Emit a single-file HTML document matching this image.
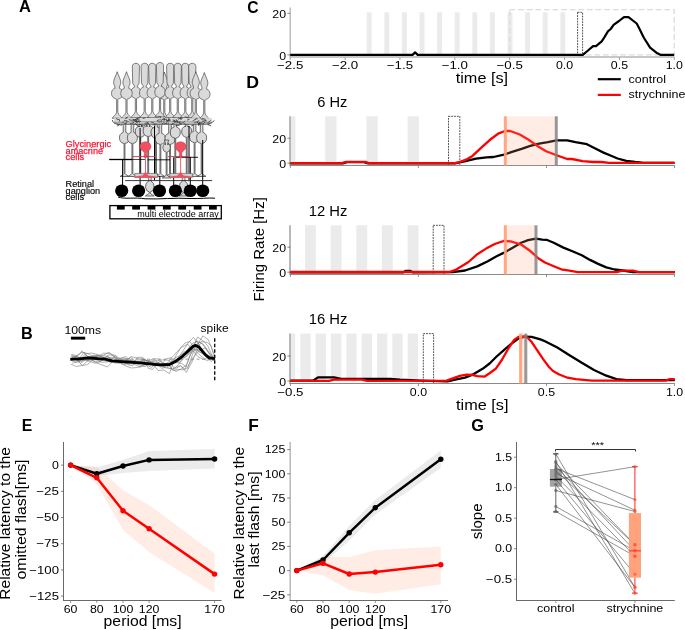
<!DOCTYPE html>
<html><head><meta charset="utf-8"><style>
html,body{margin:0;padding:0;background:#fff;}
svg{display:block;font-family:"Liberation Sans", sans-serif;will-change:transform;}
text{font-family:"Liberation Sans", sans-serif;}
</style></head><body>
<svg width="685" height="630" viewBox="0 0 685 630">
<rect width="685" height="630" fill="#fff"/>
<text x="19.0" y="11.8" font-size="16.4" text-anchor="start" font-weight="bold" fill="#000" textLength="11.92" lengthAdjust="spacingAndGlyphs" >A</text>
<text x="21.0" y="339.0" font-size="16.4" text-anchor="start" font-weight="bold" fill="#000" textLength="11.74" lengthAdjust="spacingAndGlyphs" >B</text>
<text x="247.2" y="12.7" font-size="16.4" text-anchor="start" font-weight="bold" fill="#000" textLength="11.3" lengthAdjust="spacingAndGlyphs" >C</text>
<text x="246.2" y="88.3" font-size="16.4" text-anchor="start" font-weight="bold" fill="#000" textLength="12.78" lengthAdjust="spacingAndGlyphs" >D</text>
<text x="21.8" y="431.0" font-size="16.4" text-anchor="start" font-weight="bold" fill="#000" textLength="10.52" lengthAdjust="spacingAndGlyphs" >E</text>
<text x="248.3" y="430.6" font-size="16.4" text-anchor="start" font-weight="bold" fill="#000" textLength="10.52" lengthAdjust="spacingAndGlyphs" >F</text>
<text x="471.2" y="431.0" font-size="16.4" text-anchor="start" font-weight="bold" fill="#000" textLength="12.64" lengthAdjust="spacingAndGlyphs" >G</text>
<rect x="366.75" y="12.3" width="4.9" height="42" fill="#ebebeb"/>
<rect x="384.35" y="12.3" width="4.9" height="42" fill="#ebebeb"/>
<rect x="401.95" y="12.3" width="4.9" height="42" fill="#ebebeb"/>
<rect x="419.55" y="12.3" width="4.9" height="42" fill="#ebebeb"/>
<rect x="437.15" y="12.3" width="4.9" height="42" fill="#ebebeb"/>
<rect x="454.75" y="12.3" width="4.9" height="42" fill="#ebebeb"/>
<rect x="472.35" y="12.3" width="4.9" height="42" fill="#ebebeb"/>
<rect x="489.95" y="12.3" width="4.9" height="42" fill="#ebebeb"/>
<rect x="507.55" y="12.3" width="4.9" height="42" fill="#ebebeb"/>
<rect x="525.15" y="12.3" width="4.9" height="42" fill="#ebebeb"/>
<rect x="542.75" y="12.3" width="4.9" height="42" fill="#ebebeb"/>
<rect x="560.35" y="12.3" width="4.9" height="42" fill="#ebebeb"/>
<rect x="509.6" y="9.7" width="164.6" height="45.1" fill="none" stroke="#dcdcdc" stroke-width="1.3" stroke-dasharray="5.7 2.9"/>
<rect x="577.6" y="12.3" width="5.0" height="43.5" fill="none" stroke="#222" stroke-width="0.8" stroke-dasharray="1.8 1.0"/>
<line x1="290.2" y1="7.6" x2="290.2" y2="57.6" stroke="#b5b5b5" stroke-width="1.3"/>
<line x1="289.6" y1="57.0" x2="674.6" y2="57.0" stroke="#b5b5b5" stroke-width="1.3"/>
<line x1="287.4" y1="54.9" x2="290.2" y2="54.9" stroke="#666" stroke-width="0.8"/>
<text x="286.1" y="59.5" font-size="11.5" text-anchor="end" font-weight="normal" fill="#000" textLength="6.87" lengthAdjust="spacingAndGlyphs" >0</text>
<line x1="287.4" y1="13.3" x2="290.2" y2="13.3" stroke="#666" stroke-width="0.8"/>
<text x="286.1" y="17.9" font-size="11.5" text-anchor="end" font-weight="normal" fill="#000" textLength="13.74" lengthAdjust="spacingAndGlyphs" >20</text>
<line x1="290.2" y1="57.6" x2="290.2" y2="59.8" stroke="#777" stroke-width="0.8"/>
<text x="290.2" y="69.2" font-size="11.5" text-anchor="middle" font-weight="normal" fill="#000" textLength="26.22" lengthAdjust="spacingAndGlyphs" >−2.5</text>
<line x1="345.1" y1="57.6" x2="345.1" y2="59.8" stroke="#777" stroke-width="0.8"/>
<text x="345.075" y="69.2" font-size="11.5" text-anchor="middle" font-weight="normal" fill="#000" textLength="26.22" lengthAdjust="spacingAndGlyphs" >−2.0</text>
<line x1="399.9" y1="57.6" x2="399.9" y2="59.8" stroke="#777" stroke-width="0.8"/>
<text x="399.95" y="69.2" font-size="11.5" text-anchor="middle" font-weight="normal" fill="#000" textLength="26.22" lengthAdjust="spacingAndGlyphs" >−1.5</text>
<line x1="454.8" y1="57.6" x2="454.8" y2="59.8" stroke="#777" stroke-width="0.8"/>
<text x="454.825" y="69.2" font-size="11.5" text-anchor="middle" font-weight="normal" fill="#000" textLength="26.22" lengthAdjust="spacingAndGlyphs" >−1.0</text>
<line x1="509.7" y1="57.6" x2="509.7" y2="59.8" stroke="#777" stroke-width="0.8"/>
<text x="509.7" y="69.2" font-size="11.5" text-anchor="middle" font-weight="normal" fill="#000" textLength="26.22" lengthAdjust="spacingAndGlyphs" >−0.5</text>
<line x1="564.6" y1="57.6" x2="564.6" y2="59.8" stroke="#777" stroke-width="0.8"/>
<text x="564.575" y="69.2" font-size="11.5" text-anchor="middle" font-weight="normal" fill="#000" textLength="17.18" lengthAdjust="spacingAndGlyphs" >0.0</text>
<line x1="619.5" y1="57.6" x2="619.5" y2="59.8" stroke="#777" stroke-width="0.8"/>
<text x="619.45" y="69.2" font-size="11.5" text-anchor="middle" font-weight="normal" fill="#000" textLength="17.18" lengthAdjust="spacingAndGlyphs" >0.5</text>
<line x1="674.3" y1="57.6" x2="674.3" y2="59.8" stroke="#777" stroke-width="0.8"/>
<text x="674.325" y="69.2" font-size="11.5" text-anchor="middle" font-weight="normal" fill="#000" textLength="17.18" lengthAdjust="spacingAndGlyphs" >1.0</text>
<text x="481.9" y="83.0" font-size="14.38" text-anchor="middle" font-weight="normal" fill="#000" textLength="52.36" lengthAdjust="spacingAndGlyphs" >time [s]</text>
<polyline points="290.2,54.9 412.5,54.9 415.1,52.4 417.7,54.9 582.8,54.9 587.4,51.0 593.1,46.2 596.0,46.2 601.7,41.4 604.5,37.1 607.9,31.4 610.7,29.0 613.6,24.8 619.0,21.0 624.0,17.1 628.5,17.1 636.7,23.5 639.3,28.6 643.7,37.5 650.1,47.6 656.4,52.7 660.9,54.9 674.2,54.9" fill="none" stroke="#000" stroke-width="2.2" stroke-linejoin="round"/>
<line x1="597.8" y1="79.2" x2="620.8" y2="79.2" stroke="#000" stroke-width="2.2"/>
<line x1="597.8" y1="94.9" x2="620.8" y2="94.9" stroke="#f00" stroke-width="2.2"/>
<text x="628.6" y="82.9" font-size="11.5" text-anchor="start" font-weight="normal" fill="#000" textLength="37.44" lengthAdjust="spacingAndGlyphs" >control</text>
<text x="628.6" y="98.4" font-size="11.5" text-anchor="start" font-weight="normal" fill="#000" textLength="56.81" lengthAdjust="spacingAndGlyphs" >strychnine</text>
<rect x="290.4" y="116.3" width="5.0" height="46.9" fill="#ebebeb"/>
<rect x="325.2" y="116.3" width="11.3" height="46.9" fill="#ebebeb"/>
<rect x="366.4" y="116.3" width="11.3" height="46.9" fill="#ebebeb"/>
<rect x="407.6" y="116.3" width="11.3" height="46.9" fill="#ebebeb"/>
<rect x="448.5" y="116.3" width="11.3" height="49.2" fill="none" stroke="#222" stroke-width="0.8" stroke-dasharray="1.8 1.0"/>
<line x1="290.0" y1="116.3" x2="290.0" y2="166.0" stroke="#a8a8a8" stroke-width="1.6"/>
<line x1="290.0" y1="165.5" x2="674.8" y2="165.5" stroke="#8a8a8a" stroke-width="1.0"/>
<line x1="287.4" y1="163.2" x2="290.4" y2="163.2" stroke="#666" stroke-width="0.8"/>
<text x="286.1" y="167.79999999999998" font-size="11.5" text-anchor="end" font-weight="normal" fill="#000" textLength="6.87" lengthAdjust="spacingAndGlyphs" >0</text>
<line x1="287.4" y1="138.2" x2="290.4" y2="138.2" stroke="#666" stroke-width="0.8"/>
<text x="286.1" y="142.79999999999998" font-size="11.5" text-anchor="end" font-weight="normal" fill="#000" textLength="13.74" lengthAdjust="spacingAndGlyphs" >20</text>
<line x1="290.4" y1="165.5" x2="290.4" y2="168.0" stroke="#777" stroke-width="0.8"/>
<line x1="418.4" y1="165.5" x2="418.4" y2="168.0" stroke="#777" stroke-width="0.8"/>
<line x1="546.5" y1="165.5" x2="546.5" y2="168.0" stroke="#777" stroke-width="0.8"/>
<line x1="674.5" y1="165.5" x2="674.5" y2="168.0" stroke="#777" stroke-width="0.8"/>
<text x="347.4" y="106.6" font-size="14.38" text-anchor="end" font-weight="normal" fill="#000" textLength="30.12" lengthAdjust="spacingAndGlyphs" >6 Hz</text>
<polyline points="290.4,163.4 343.0,163.4 347.0,162.2 364.0,162.2 368.0,163.4 455.0,163.4 465.5,161.2 476.0,158.7 486.5,157.3 493.5,157.0 504.0,154.7 512.8,151.7 521.6,148.9 530.3,145.9 539.1,143.6 547.9,142.1 556.6,140.3 567.1,140.3 575.5,142.1 586.9,144.2 594.8,148.2 603.5,152.6 610.5,155.5 617.6,158.5 626.3,160.8 635.1,162.0 642.0,162.6 674.5,162.9" fill="none" stroke="#000" stroke-width="2.3" stroke-linejoin="round"/>
<polyline points="290.4,163.2 342.0,163.2 346.0,161.9 365.0,161.9 369.0,163.2 455.0,163.2 459.4,162.2 465.5,159.9 472.5,155.9 481.3,147.7 490.0,139.8 498.8,133.3 505.0,131.0 510.2,131.0 519.8,134.5 528.6,139.8 537.3,145.9 546.1,151.2 556.6,155.2 567.1,159.0 572.0,159.0 582.5,161.2 593.0,162.0 601.8,162.0 608.8,162.9 674.5,162.9" fill="none" stroke="#f00" stroke-width="2.3" stroke-linejoin="round"/>
<rect x="505.3" y="116.3" width="51.0" height="49.2" fill="#ffa07a" fill-opacity="0.2"/>
<line x1="505.3" y1="116.3" x2="505.3" y2="165.5" stroke="#ff9f7a" stroke-opacity="0.92" stroke-width="3"/>
<line x1="556.3" y1="116.3" x2="556.3" y2="165.5" stroke="#808080" stroke-opacity="0.8" stroke-width="3"/>
<rect x="305.0" y="225.3" width="10.9" height="46.9" fill="#ebebeb"/>
<rect x="330.6" y="225.3" width="10.9" height="46.9" fill="#ebebeb"/>
<rect x="356.3" y="225.3" width="10.9" height="46.9" fill="#ebebeb"/>
<rect x="381.9" y="225.3" width="10.9" height="46.9" fill="#ebebeb"/>
<rect x="407.6" y="225.3" width="10.9" height="46.9" fill="#ebebeb"/>
<rect x="433.2" y="225.3" width="10.8" height="49.2" fill="none" stroke="#222" stroke-width="0.8" stroke-dasharray="1.8 1.0"/>
<line x1="290.0" y1="225.3" x2="290.0" y2="275.0" stroke="#a8a8a8" stroke-width="1.6"/>
<line x1="290.0" y1="274.5" x2="674.8" y2="274.5" stroke="#8a8a8a" stroke-width="1.0"/>
<line x1="287.4" y1="272.2" x2="290.4" y2="272.2" stroke="#666" stroke-width="0.8"/>
<text x="286.1" y="276.8" font-size="11.5" text-anchor="end" font-weight="normal" fill="#000" textLength="6.87" lengthAdjust="spacingAndGlyphs" >0</text>
<line x1="287.4" y1="247.2" x2="290.4" y2="247.2" stroke="#666" stroke-width="0.8"/>
<text x="286.1" y="251.79999999999998" font-size="11.5" text-anchor="end" font-weight="normal" fill="#000" textLength="13.74" lengthAdjust="spacingAndGlyphs" >20</text>
<line x1="290.4" y1="274.5" x2="290.4" y2="277.0" stroke="#777" stroke-width="0.8"/>
<line x1="418.4" y1="274.5" x2="418.4" y2="277.0" stroke="#777" stroke-width="0.8"/>
<line x1="546.5" y1="274.5" x2="546.5" y2="277.0" stroke="#777" stroke-width="0.8"/>
<line x1="674.5" y1="274.5" x2="674.5" y2="277.0" stroke="#777" stroke-width="0.8"/>
<text x="347.4" y="215.8" font-size="14.38" text-anchor="end" font-weight="normal" fill="#000" textLength="38.71" lengthAdjust="spacingAndGlyphs" >12 Hz</text>
<polyline points="290.4,272.4 403.0,272.4 405.5,270.9 410.5,270.9 413.0,272.4 452.8,272.2 465.0,270.5 477.3,266.4 487.8,261.2 496.6,256.3 503.6,252.9 512.3,248.0 521.1,242.8 528.1,240.1 536.0,238.7 542.1,239.6 546.5,239.8 553.2,242.5 563.4,247.6 573.6,251.7 581.8,255.2 590.0,259.9 598.1,263.9 606.3,267.4 614.5,269.5 622.7,270.5 632.9,272.1 674.8,272.1" fill="none" stroke="#000" stroke-width="2.3" stroke-linejoin="round"/>
<polyline points="290.4,272.0 449.3,272.0 456.3,269.6 468.5,262.0 477.3,254.2 486.1,248.6 494.8,244.0 503.6,241.0 510.6,241.4 521.1,244.5 529.9,250.7 538.6,258.5 545.0,262.5 553.2,266.0 562.4,269.7 569.5,270.7 577.7,272.1 616.5,272.1 622.7,270.7 632.9,270.7 639.0,272.1 674.8,272.1" fill="none" stroke="#f00" stroke-width="2.3" stroke-linejoin="round"/>
<rect x="505.3" y="225.3" width="30.7" height="49.2" fill="#ffa07a" fill-opacity="0.2"/>
<line x1="505.3" y1="225.3" x2="505.3" y2="274.5" stroke="#ff9f7a" stroke-opacity="0.92" stroke-width="3"/>
<line x1="536.0" y1="225.3" x2="536.0" y2="274.5" stroke="#808080" stroke-opacity="0.8" stroke-width="3"/>
<rect x="290.4" y="333.6" width="4.8" height="47.4" fill="#ebebeb"/>
<rect x="300.3" y="333.6" width="10.3" height="47.4" fill="#ebebeb"/>
<rect x="315.6" y="333.6" width="10.3" height="47.4" fill="#ebebeb"/>
<rect x="331.0" y="333.6" width="10.3" height="47.4" fill="#ebebeb"/>
<rect x="346.3" y="333.6" width="10.3" height="47.4" fill="#ebebeb"/>
<rect x="361.7" y="333.6" width="10.3" height="47.4" fill="#ebebeb"/>
<rect x="377.0" y="333.6" width="10.3" height="47.4" fill="#ebebeb"/>
<rect x="392.3" y="333.6" width="10.3" height="47.4" fill="#ebebeb"/>
<rect x="407.7" y="333.6" width="10.3" height="47.4" fill="#ebebeb"/>
<rect x="423.3" y="333.6" width="10.3" height="49.9" fill="none" stroke="#222" stroke-width="0.8" stroke-dasharray="1.8 1.0"/>
<line x1="290.0" y1="333.6" x2="290.0" y2="384.0" stroke="#a8a8a8" stroke-width="1.6"/>
<line x1="290.0" y1="383.5" x2="674.8" y2="383.5" stroke="#8a8a8a" stroke-width="1.0"/>
<line x1="287.4" y1="381.0" x2="290.4" y2="381.0" stroke="#666" stroke-width="0.8"/>
<text x="286.1" y="385.6" font-size="11.5" text-anchor="end" font-weight="normal" fill="#000" textLength="6.87" lengthAdjust="spacingAndGlyphs" >0</text>
<line x1="287.4" y1="356.0" x2="290.4" y2="356.0" stroke="#666" stroke-width="0.8"/>
<text x="286.1" y="360.6" font-size="11.5" text-anchor="end" font-weight="normal" fill="#000" textLength="13.74" lengthAdjust="spacingAndGlyphs" >20</text>
<line x1="290.4" y1="383.5" x2="290.4" y2="386.0" stroke="#777" stroke-width="0.8"/>
<text x="290.4" y="395.9" font-size="11.5" text-anchor="middle" font-weight="normal" fill="#000" textLength="26.22" lengthAdjust="spacingAndGlyphs" >−0.5</text>
<line x1="418.4" y1="383.5" x2="418.4" y2="386.0" stroke="#777" stroke-width="0.8"/>
<text x="418.43499999999995" y="395.9" font-size="11.5" text-anchor="middle" font-weight="normal" fill="#000" textLength="17.18" lengthAdjust="spacingAndGlyphs" >0.0</text>
<line x1="546.5" y1="383.5" x2="546.5" y2="386.0" stroke="#777" stroke-width="0.8"/>
<text x="546.47" y="395.9" font-size="11.5" text-anchor="middle" font-weight="normal" fill="#000" textLength="17.18" lengthAdjust="spacingAndGlyphs" >0.5</text>
<line x1="674.5" y1="383.5" x2="674.5" y2="386.0" stroke="#777" stroke-width="0.8"/>
<text x="674.505" y="395.9" font-size="11.5" text-anchor="middle" font-weight="normal" fill="#000" textLength="17.18" lengthAdjust="spacingAndGlyphs" >1.0</text>
<text x="347.4" y="324.2" font-size="14.38" text-anchor="end" font-weight="normal" fill="#000" textLength="38.71" lengthAdjust="spacingAndGlyphs" >16 Hz</text>
<polyline points="290.4,380.7 313.0,380.7 318.0,377.4 334.0,377.4 341.0,378.9 390.0,378.9 400.0,379.7 421.0,380.7 447.5,381.4 456.3,379.3 465.0,377.6 473.8,374.1 482.6,368.8 489.6,363.5 496.6,356.5 503.6,350.4 510.6,344.3 517.6,339.0 524.6,336.7 531.6,336.9 540.4,339.4 545.0,341.3 557.3,347.5 569.5,355.2 581.8,362.8 594.0,370.0 606.3,375.7 616.5,379.2 626.7,380.2 674.8,380.2" fill="none" stroke="#000" stroke-width="2.3" stroke-linejoin="round"/>
<polyline points="290.4,380.9 329.0,380.9 334.0,379.6 362.0,379.6 367.0,380.9 446.6,380.7 452.8,378.4 459.8,375.8 466.8,374.6 472.0,374.9 477.3,376.2 484.3,376.7 489.6,373.2 495.7,368.8 501.8,360.0 508.8,347.8 514.1,339.9 518.5,336.9 522.9,336.4 527.2,337.3 531.9,342.3 537.6,350.9 543.3,359.4 549.0,367.0 553.0,371.0 559.3,374.5 567.5,377.7 575.7,379.2 592.0,380.6 665.6,380.6 669.7,379.2 674.8,379.2" fill="none" stroke="#f00" stroke-width="2.3" stroke-linejoin="round"/>
<rect x="520.6" y="333.6" width="5.2" height="49.9" fill="#ffa07a" fill-opacity="0.2"/>
<line x1="520.6" y1="333.6" x2="520.6" y2="383.5" stroke="#ff9f7a" stroke-opacity="0.92" stroke-width="3"/>
<line x1="525.8" y1="333.6" x2="525.8" y2="383.5" stroke="#808080" stroke-opacity="0.8" stroke-width="3"/>
<text x="482.3" y="409.6" font-size="14.38" text-anchor="middle" font-weight="normal" fill="#000" textLength="52.36" lengthAdjust="spacingAndGlyphs" >time [s]</text>
<text x="0" y="0" transform="translate(264.0,249.3) rotate(-90)" font-size="14.38" text-anchor="middle" font-weight="normal" fill="#000" textLength="104.27" lengthAdjust="spacingAndGlyphs" >Firing Rate [Hz]</text>
<polygon points="70.6,465.1 96.8,467.5 123.0,459.9 149.1,451.0 214.6,448.9 214.6,468.6 149.1,470.9 123.0,473.0 96.8,475.9 70.6,465.1" fill="#ebebeb" fill-opacity="1"/>
<polygon points="70.6,465.1 96.8,466.7 123.0,490.3 149.1,504.9 214.6,553.7 214.6,593.0 149.1,552.1 123.0,530.1 96.8,484.0 70.6,465.1" fill="#ffa07a" fill-opacity="0.2"/>
<line x1="63.5" y1="442.0" x2="63.5" y2="601.0" stroke="#6a6a6a" stroke-width="1.0"/>
<line x1="63.0" y1="600.5" x2="221.5" y2="600.5" stroke="#6a6a6a" stroke-width="1.0"/>
<line x1="61.0" y1="465.1" x2="63.5" y2="465.1" stroke="#666" stroke-width="0.8"/>
<text x="59.0" y="468.8" font-size="11.5" text-anchor="end" font-weight="normal" fill="#000" textLength="6.87" lengthAdjust="spacingAndGlyphs" >0</text>
<line x1="61.0" y1="491.3" x2="63.5" y2="491.3" stroke="#666" stroke-width="0.8"/>
<text x="59.0" y="495.0" font-size="11.5" text-anchor="end" font-weight="normal" fill="#000" textLength="22.79" lengthAdjust="spacingAndGlyphs" >−25</text>
<line x1="61.0" y1="517.5" x2="63.5" y2="517.5" stroke="#666" stroke-width="0.8"/>
<text x="59.0" y="521.2" font-size="11.5" text-anchor="end" font-weight="normal" fill="#000" textLength="22.79" lengthAdjust="spacingAndGlyphs" >−50</text>
<line x1="61.0" y1="543.7" x2="63.5" y2="543.7" stroke="#666" stroke-width="0.8"/>
<text x="59.0" y="547.4000000000001" font-size="11.5" text-anchor="end" font-weight="normal" fill="#000" textLength="22.79" lengthAdjust="spacingAndGlyphs" >−75</text>
<line x1="61.0" y1="569.9" x2="63.5" y2="569.9" stroke="#666" stroke-width="0.8"/>
<text x="59.0" y="573.6000000000001" font-size="11.5" text-anchor="end" font-weight="normal" fill="#000" textLength="29.66" lengthAdjust="spacingAndGlyphs" >−100</text>
<line x1="61.0" y1="596.1" x2="63.5" y2="596.1" stroke="#666" stroke-width="0.8"/>
<text x="59.0" y="599.8000000000001" font-size="11.5" text-anchor="end" font-weight="normal" fill="#000" textLength="29.66" lengthAdjust="spacingAndGlyphs" >−125</text>
<line x1="70.6" y1="601.0" x2="70.6" y2="603.0" stroke="#777" stroke-width="0.8"/>
<text x="70.6" y="613.3" font-size="11.5" text-anchor="middle" font-weight="normal" fill="#000" textLength="13.74" lengthAdjust="spacingAndGlyphs" >60</text>
<line x1="96.8" y1="601.0" x2="96.8" y2="603.0" stroke="#777" stroke-width="0.8"/>
<text x="96.78" y="613.3" font-size="11.5" text-anchor="middle" font-weight="normal" fill="#000" textLength="13.74" lengthAdjust="spacingAndGlyphs" >80</text>
<line x1="123.0" y1="601.0" x2="123.0" y2="603.0" stroke="#777" stroke-width="0.8"/>
<text x="122.96" y="613.3" font-size="11.5" text-anchor="middle" font-weight="normal" fill="#000" textLength="20.61" lengthAdjust="spacingAndGlyphs" >100</text>
<line x1="149.1" y1="601.0" x2="149.1" y2="603.0" stroke="#777" stroke-width="0.8"/>
<text x="149.14" y="613.3" font-size="11.5" text-anchor="middle" font-weight="normal" fill="#000" textLength="20.61" lengthAdjust="spacingAndGlyphs" >120</text>
<line x1="214.6" y1="601.0" x2="214.6" y2="603.0" stroke="#777" stroke-width="0.8"/>
<text x="214.58999999999997" y="613.3" font-size="11.5" text-anchor="middle" font-weight="normal" fill="#000" textLength="20.61" lengthAdjust="spacingAndGlyphs" >170</text>
<text x="142.6" y="626.4" font-size="14.38" text-anchor="middle" font-weight="normal" fill="#000" textLength="78.01" lengthAdjust="spacingAndGlyphs" >period [ms]</text>
<text x="0" y="0" transform="translate(10.3,523.4) rotate(-90)" font-size="14.38" text-anchor="middle" font-weight="normal" fill="#000" textLength="152.61" lengthAdjust="spacingAndGlyphs" >Relative latency to the</text>
<text x="0" y="0" transform="translate(25.6,519.5) rotate(-90)" font-size="14.38" text-anchor="middle" font-weight="normal" fill="#000" textLength="120.0" lengthAdjust="spacingAndGlyphs" >omitted flash[ms]</text>
<polyline points="70.6,465.1 96.8,473.8 123.0,466.0 149.1,459.9 214.6,459.0" fill="none" stroke="#000" stroke-width="2.5" stroke-linejoin="round"/>
<circle cx="70.6" cy="465.1" r="2.7" fill="#000"/>
<circle cx="96.8" cy="473.8" r="2.7" fill="#000"/>
<circle cx="123.0" cy="466.0" r="2.7" fill="#000"/>
<circle cx="149.1" cy="459.9" r="2.7" fill="#000"/>
<circle cx="214.6" cy="459.0" r="2.7" fill="#000"/>
<polyline points="70.6,465.1 96.8,477.8 123.0,510.7 149.1,528.8 214.6,574.1" fill="none" stroke="#f00" stroke-width="2.5" stroke-linejoin="round"/>
<circle cx="70.6" cy="465.1" r="2.7" fill="#f00"/>
<circle cx="96.8" cy="477.8" r="2.7" fill="#f00"/>
<circle cx="123.0" cy="510.7" r="2.7" fill="#f00"/>
<circle cx="149.1" cy="528.8" r="2.7" fill="#f00"/>
<circle cx="214.6" cy="574.1" r="2.7" fill="#f00"/>
<polygon points="296.8,570.6 323.0,556.1 349.2,526.1 375.3,499.9 440.8,450.6 440.8,468.0 375.3,514.5 349.2,540.6 323.0,563.8 296.8,570.6" fill="#ebebeb" fill-opacity="1"/>
<polygon points="296.8,570.6 323.0,557.0 349.2,557.0 375.3,550.3 440.8,546.4 440.8,584.2 375.3,593.8 349.2,590.0 323.0,575.4 296.8,570.6" fill="#ffa07a" fill-opacity="0.2"/>
<line x1="290.2" y1="442.0" x2="290.2" y2="600.5" stroke="#bdbdbd" stroke-width="1.6"/>
<line x1="289.6" y1="600.5" x2="448.0" y2="600.5" stroke="#6a6a6a" stroke-width="1.0"/>
<line x1="287.2" y1="594.8" x2="290.2" y2="594.8" stroke="#666" stroke-width="0.8"/>
<text x="285.3" y="598.5000000000001" font-size="11.5" text-anchor="end" font-weight="normal" fill="#000" textLength="22.79" lengthAdjust="spacingAndGlyphs" >−25</text>
<line x1="287.2" y1="570.6" x2="290.2" y2="570.6" stroke="#666" stroke-width="0.8"/>
<text x="285.3" y="574.3000000000001" font-size="11.5" text-anchor="end" font-weight="normal" fill="#000" textLength="6.87" lengthAdjust="spacingAndGlyphs" >0</text>
<line x1="287.2" y1="546.4" x2="290.2" y2="546.4" stroke="#666" stroke-width="0.8"/>
<text x="285.3" y="550.1" font-size="11.5" text-anchor="end" font-weight="normal" fill="#000" textLength="13.74" lengthAdjust="spacingAndGlyphs" >25</text>
<line x1="287.2" y1="522.2" x2="290.2" y2="522.2" stroke="#666" stroke-width="0.8"/>
<text x="285.3" y="525.9000000000001" font-size="11.5" text-anchor="end" font-weight="normal" fill="#000" textLength="13.74" lengthAdjust="spacingAndGlyphs" >50</text>
<line x1="287.2" y1="498.0" x2="290.2" y2="498.0" stroke="#666" stroke-width="0.8"/>
<text x="285.3" y="501.7" font-size="11.5" text-anchor="end" font-weight="normal" fill="#000" textLength="13.74" lengthAdjust="spacingAndGlyphs" >75</text>
<line x1="287.2" y1="473.8" x2="290.2" y2="473.8" stroke="#666" stroke-width="0.8"/>
<text x="285.3" y="477.5" font-size="11.5" text-anchor="end" font-weight="normal" fill="#000" textLength="20.61" lengthAdjust="spacingAndGlyphs" >100</text>
<line x1="287.2" y1="449.6" x2="290.2" y2="449.6" stroke="#666" stroke-width="0.8"/>
<text x="285.3" y="453.3" font-size="11.5" text-anchor="end" font-weight="normal" fill="#000" textLength="20.61" lengthAdjust="spacingAndGlyphs" >125</text>
<line x1="296.8" y1="601.0" x2="296.8" y2="603.0" stroke="#777" stroke-width="0.8"/>
<text x="296.8" y="613.3" font-size="11.5" text-anchor="middle" font-weight="normal" fill="#000" textLength="13.74" lengthAdjust="spacingAndGlyphs" >60</text>
<line x1="323.0" y1="601.0" x2="323.0" y2="603.0" stroke="#777" stroke-width="0.8"/>
<text x="322.98" y="613.3" font-size="11.5" text-anchor="middle" font-weight="normal" fill="#000" textLength="13.74" lengthAdjust="spacingAndGlyphs" >80</text>
<line x1="349.2" y1="601.0" x2="349.2" y2="603.0" stroke="#777" stroke-width="0.8"/>
<text x="349.16" y="613.3" font-size="11.5" text-anchor="middle" font-weight="normal" fill="#000" textLength="20.61" lengthAdjust="spacingAndGlyphs" >100</text>
<line x1="375.3" y1="601.0" x2="375.3" y2="603.0" stroke="#777" stroke-width="0.8"/>
<text x="375.34000000000003" y="613.3" font-size="11.5" text-anchor="middle" font-weight="normal" fill="#000" textLength="20.61" lengthAdjust="spacingAndGlyphs" >120</text>
<line x1="440.8" y1="601.0" x2="440.8" y2="603.0" stroke="#777" stroke-width="0.8"/>
<text x="440.78999999999996" y="613.3" font-size="11.5" text-anchor="middle" font-weight="normal" fill="#000" textLength="20.61" lengthAdjust="spacingAndGlyphs" >170</text>
<text x="369.2" y="626.4" font-size="14.38" text-anchor="middle" font-weight="normal" fill="#000" textLength="78.01" lengthAdjust="spacingAndGlyphs" >period [ms]</text>
<text x="0" y="0" transform="translate(244.0,523.2) rotate(-90)" font-size="14.38" text-anchor="middle" font-weight="normal" fill="#000" textLength="152.61" lengthAdjust="spacingAndGlyphs" >Relative latency to the</text>
<text x="0" y="0" transform="translate(259.0,519.5) rotate(-90)" font-size="14.38" text-anchor="middle" font-weight="normal" fill="#000" textLength="96.02" lengthAdjust="spacingAndGlyphs" >last flash [ms]</text>
<polyline points="296.8,570.6 323.0,560.0 349.2,532.8 375.3,507.7 440.8,459.3" fill="none" stroke="#000" stroke-width="2.5" stroke-linejoin="round"/>
<circle cx="296.8" cy="570.6" r="2.7" fill="#000"/>
<circle cx="323.0" cy="560.0" r="2.7" fill="#000"/>
<circle cx="349.2" cy="532.8" r="2.7" fill="#000"/>
<circle cx="375.3" cy="507.7" r="2.7" fill="#000"/>
<circle cx="440.8" cy="459.3" r="2.7" fill="#000"/>
<polyline points="296.8,570.6 323.0,563.3 349.2,574.0 375.3,572.1 440.8,564.8" fill="none" stroke="#f00" stroke-width="2.5" stroke-linejoin="round"/>
<circle cx="296.8" cy="570.6" r="2.7" fill="#f00"/>
<circle cx="323.0" cy="563.3" r="2.7" fill="#f00"/>
<circle cx="349.2" cy="574.0" r="2.7" fill="#f00"/>
<circle cx="375.3" cy="572.1" r="2.7" fill="#f00"/>
<circle cx="440.8" cy="564.8" r="2.7" fill="#f00"/>
<line x1="516.5" y1="442.0" x2="516.5" y2="601.0" stroke="#6a6a6a" stroke-width="1.0"/>
<line x1="516.0" y1="600.5" x2="674.8" y2="600.5" stroke="#6a6a6a" stroke-width="1.0"/>
<line x1="514.0" y1="579.2" x2="516.5" y2="579.2" stroke="#666" stroke-width="0.8"/>
<text x="512.1" y="582.9000000000001" font-size="11.5" text-anchor="end" font-weight="normal" fill="#000" textLength="26.22" lengthAdjust="spacingAndGlyphs" >−0.5</text>
<line x1="514.0" y1="548.7" x2="516.5" y2="548.7" stroke="#666" stroke-width="0.8"/>
<text x="512.1" y="552.4000000000001" font-size="11.5" text-anchor="end" font-weight="normal" fill="#000" textLength="17.18" lengthAdjust="spacingAndGlyphs" >0.0</text>
<line x1="514.0" y1="518.2" x2="516.5" y2="518.2" stroke="#666" stroke-width="0.8"/>
<text x="512.1" y="521.9000000000001" font-size="11.5" text-anchor="end" font-weight="normal" fill="#000" textLength="17.18" lengthAdjust="spacingAndGlyphs" >0.5</text>
<line x1="514.0" y1="487.7" x2="516.5" y2="487.7" stroke="#666" stroke-width="0.8"/>
<text x="512.1" y="491.40000000000003" font-size="11.5" text-anchor="end" font-weight="normal" fill="#000" textLength="17.18" lengthAdjust="spacingAndGlyphs" >1.0</text>
<line x1="514.0" y1="457.2" x2="516.5" y2="457.2" stroke="#666" stroke-width="0.8"/>
<text x="512.1" y="460.90000000000003" font-size="11.5" text-anchor="end" font-weight="normal" fill="#000" textLength="17.18" lengthAdjust="spacingAndGlyphs" >1.5</text>
<line x1="555.8" y1="601.0" x2="555.8" y2="603.0" stroke="#777" stroke-width="0.8"/>
<line x1="634.9" y1="601.0" x2="634.9" y2="603.0" stroke="#777" stroke-width="0.8"/>
<text x="555.8" y="612.3" font-size="11.5" text-anchor="middle" font-weight="normal" fill="#000" textLength="37.44" lengthAdjust="spacingAndGlyphs" >control</text>
<text x="634.9" y="612.3" font-size="11.5" text-anchor="middle" font-weight="normal" fill="#000" textLength="56.81" lengthAdjust="spacingAndGlyphs" >strychnine</text>
<text x="0" y="0" transform="translate(481.9,521.4) rotate(-90)" font-size="14.38" text-anchor="middle" font-weight="normal" fill="#000" textLength="35.92" lengthAdjust="spacingAndGlyphs" >slope</text>
<line x1="555.8" y1="453.8" x2="555.8" y2="469.0" stroke="#666" stroke-width="1.0"/>
<line x1="555.8" y1="486.7" x2="555.8" y2="511.9" stroke="#666" stroke-width="1.0"/>
<line x1="553.0" y1="453.8" x2="558.6" y2="453.8" stroke="#555" stroke-width="1.2"/>
<line x1="553.0" y1="511.9" x2="558.6" y2="511.9" stroke="#555" stroke-width="1.2"/>
<line x1="634.9" y1="466.6" x2="634.9" y2="513.1" stroke="#ff3a3a" stroke-width="1.1"/>
<line x1="634.9" y1="577.7" x2="634.9" y2="593.1" stroke="#ff3a3a" stroke-width="1.1"/>
<line x1="632.1" y1="466.6" x2="637.7" y2="466.6" stroke="#f33" stroke-width="1.2"/>
<line x1="632.1" y1="593.1" x2="637.7" y2="593.1" stroke="#f33" stroke-width="1.2"/>
<rect x="549.9" y="469.0" width="12.0" height="17.7" fill="#a3a3a3"/>
<line x1="555.8" y1="479.5" x2="634.9" y2="466.7" stroke="#3a3a3a" stroke-opacity="0.85" stroke-width="0.65"/>
<line x1="555.8" y1="468.4" x2="634.9" y2="499.6" stroke="#3a3a3a" stroke-opacity="0.85" stroke-width="0.65"/>
<line x1="555.8" y1="473.3" x2="634.9" y2="510.2" stroke="#3a3a3a" stroke-opacity="0.85" stroke-width="0.65"/>
<line x1="555.8" y1="490.5" x2="634.9" y2="511.5" stroke="#3a3a3a" stroke-opacity="0.85" stroke-width="0.65"/>
<line x1="555.8" y1="454.1" x2="634.9" y2="587.3" stroke="#3a3a3a" stroke-opacity="0.85" stroke-width="0.65"/>
<line x1="555.8" y1="461.5" x2="634.9" y2="593.4" stroke="#3a3a3a" stroke-opacity="0.85" stroke-width="0.65"/>
<line x1="555.8" y1="506.5" x2="634.9" y2="550.8" stroke="#3a3a3a" stroke-opacity="0.85" stroke-width="0.65"/>
<line x1="555.8" y1="511.5" x2="634.9" y2="556.2" stroke="#3a3a3a" stroke-opacity="0.85" stroke-width="0.65"/>
<line x1="555.8" y1="470.5" x2="634.9" y2="544.7" stroke="#3a3a3a" stroke-opacity="0.85" stroke-width="0.65"/>
<line x1="555.8" y1="479.5" x2="634.9" y2="574.2" stroke="#3a3a3a" stroke-opacity="0.85" stroke-width="0.65"/>
<line x1="555.8" y1="484.4" x2="634.9" y2="587.3" stroke="#3a3a3a" stroke-opacity="0.85" stroke-width="0.65"/>
<line x1="555.8" y1="466.0" x2="634.9" y2="550.8" stroke="#3a3a3a" stroke-opacity="0.85" stroke-width="0.65"/>
<line x1="555.8" y1="476.0" x2="634.9" y2="556.2" stroke="#3a3a3a" stroke-opacity="0.85" stroke-width="0.65"/>
<line x1="555.8" y1="463.0" x2="634.9" y2="544.7" stroke="#3a3a3a" stroke-opacity="0.85" stroke-width="0.65"/>
<rect x="628.9" y="513.1" width="12.1" height="64.6" fill="#ff9b73" fill-opacity="0.92"/>
<circle cx="555.8" cy="479.5" r="1.7" fill="#555" fill-opacity="0.55"/>
<circle cx="634.9" cy="466.7" r="1.7" fill="#ff4a20" fill-opacity="0.55"/>
<circle cx="555.8" cy="468.4" r="1.7" fill="#555" fill-opacity="0.55"/>
<circle cx="634.9" cy="499.6" r="1.7" fill="#ff4a20" fill-opacity="0.55"/>
<circle cx="555.8" cy="473.3" r="1.7" fill="#555" fill-opacity="0.55"/>
<circle cx="634.9" cy="510.2" r="1.7" fill="#ff4a20" fill-opacity="0.55"/>
<circle cx="555.8" cy="490.5" r="1.7" fill="#555" fill-opacity="0.55"/>
<circle cx="634.9" cy="511.5" r="1.7" fill="#ff4a20" fill-opacity="0.55"/>
<circle cx="555.8" cy="454.1" r="1.7" fill="#555" fill-opacity="0.55"/>
<circle cx="634.9" cy="587.3" r="1.7" fill="#ff4a20" fill-opacity="0.55"/>
<circle cx="555.8" cy="461.5" r="1.7" fill="#555" fill-opacity="0.55"/>
<circle cx="634.9" cy="593.4" r="1.7" fill="#ff4a20" fill-opacity="0.55"/>
<circle cx="555.8" cy="506.5" r="1.7" fill="#555" fill-opacity="0.55"/>
<circle cx="634.9" cy="550.8" r="1.7" fill="#ff4a20" fill-opacity="0.55"/>
<circle cx="555.8" cy="511.5" r="1.7" fill="#555" fill-opacity="0.55"/>
<circle cx="634.9" cy="556.2" r="1.7" fill="#ff4a20" fill-opacity="0.55"/>
<circle cx="555.8" cy="470.5" r="1.7" fill="#555" fill-opacity="0.55"/>
<circle cx="634.9" cy="544.7" r="1.7" fill="#ff4a20" fill-opacity="0.55"/>
<circle cx="555.8" cy="479.5" r="1.7" fill="#555" fill-opacity="0.55"/>
<circle cx="634.9" cy="574.2" r="1.7" fill="#ff4a20" fill-opacity="0.55"/>
<circle cx="555.8" cy="484.4" r="1.7" fill="#555" fill-opacity="0.55"/>
<circle cx="634.9" cy="587.3" r="1.7" fill="#ff4a20" fill-opacity="0.55"/>
<circle cx="555.8" cy="466.0" r="1.7" fill="#555" fill-opacity="0.55"/>
<circle cx="634.9" cy="550.8" r="1.7" fill="#ff4a20" fill-opacity="0.55"/>
<circle cx="555.8" cy="476.0" r="1.7" fill="#555" fill-opacity="0.55"/>
<circle cx="634.9" cy="556.2" r="1.7" fill="#ff4a20" fill-opacity="0.55"/>
<circle cx="555.8" cy="463.0" r="1.7" fill="#555" fill-opacity="0.55"/>
<circle cx="634.9" cy="544.7" r="1.7" fill="#ff4a20" fill-opacity="0.55"/>
<line x1="549.9" y1="479.5" x2="561.9" y2="479.5" stroke="#111" stroke-width="1.3"/>
<line x1="628.9" y1="550.8" x2="641.0" y2="550.8" stroke="#ff4040" stroke-width="1.3"/>
<polyline points="555.5,451.5 555.5,449.5 635.5,449.5 635.5,451.5" fill="none" stroke="#333" stroke-width="1.0"/>
<text x="597.7" y="448.2" font-size="9.16" text-anchor="middle" font-weight="normal" fill="#000" textLength="12.9" lengthAdjust="spacingAndGlyphs" >***</text>
<line x1="70" y1="359.2" x2="214.7" y2="359.2" stroke="#8a8a8a" stroke-width="0.8" stroke-dasharray="3 2.5"/>
<polyline points="71.5,354.5 77.9,355.8 82.0,350.8 87.1,356.8 93.4,356.3 97.7,355.6 103.0,357.4 108.5,360.9 113.2,361.6 119.5,362.0 125.5,360.7 129.8,360.5 133.8,360.5 140.0,362.2 146.4,364.8 152.6,363.3 158.0,370.6 163.7,370.0 169.4,373.6 175.8,355.9 180.7,347.8 185.1,342.9 189.9,341.4 195.4,350.7 200.2,355.4 205.0,358.8 209.8,356.9 214.7,358.5" fill="none" stroke="#7a7a7a" stroke-opacity="0.65" stroke-width="0.9" stroke-linejoin="round"/>
<polyline points="72.3,363.2 78.4,361.9 82.4,360.9 87.9,356.9 91.9,359.1 98.3,359.8 102.8,359.8 109.1,354.7 114.0,355.8 119.9,360.9 124.2,361.4 130.3,357.3 134.4,360.6 139.3,361.4 144.8,364.4 151.1,363.5 156.5,363.4 160.9,366.2 165.1,367.8 171.6,368.6 176.0,371.4 181.3,368.9 186.4,365.1 192.4,348.7 197.6,337.0 203.9,341.3 207.9,346.1 212.3,356.1 214.7,359.5" fill="none" stroke="#7a7a7a" stroke-opacity="0.65" stroke-width="0.9" stroke-linejoin="round"/>
<polyline points="71.9,361.0 76.2,361.8 82.4,359.4 88.9,361.1 95.0,363.2 100.2,361.3 106.0,358.7 111.0,360.5 115.4,355.5 121.8,363.7 127.4,360.9 131.6,361.6 136.3,363.3 141.2,358.3 147.1,361.3 152.8,358.9 158.7,358.9 163.4,364.2 168.6,364.8 173.4,358.8 179.7,355.7 183.8,352.1 189.1,349.2 194.3,349.3 200.3,350.2 205.2,354.2 210.8,358.1 214.7,357.3" fill="none" stroke="#7a7a7a" stroke-opacity="0.65" stroke-width="0.9" stroke-linejoin="round"/>
<polyline points="72.0,357.3 78.4,360.8 83.7,358.6 88.2,361.2 93.4,355.0 99.1,356.0 103.5,353.2 109.5,353.4 114.5,355.1 120.1,358.5 125.9,356.4 129.9,360.4 135.6,363.9 140.1,362.3 144.2,359.5 149.4,361.7 153.7,363.9 158.5,365.2 162.6,366.5 167.8,363.0 173.3,370.9 177.9,369.3 182.9,369.8 187.6,368.4 193.6,351.4 198.6,342.9 202.8,335.9 208.2,339.5 214.6,355.3 214.7,357.5" fill="none" stroke="#7a7a7a" stroke-opacity="0.65" stroke-width="0.9" stroke-linejoin="round"/>
<polyline points="71.6,359.1 77.1,359.9 82.5,365.6 88.0,360.3 92.9,359.8 97.2,359.5 102.6,358.4 108.1,358.6 114.4,358.3 118.9,361.7 123.7,364.5 130.1,363.4 136.4,361.7 142.8,361.4 148.0,360.7 154.5,363.7 159.7,363.7 164.0,366.9 169.6,363.8 175.5,362.7 181.6,358.3 186.3,351.1 192.6,343.3 197.3,341.3 201.7,349.3 207.2,355.5 212.4,356.8 214.7,357.8" fill="none" stroke="#7a7a7a" stroke-opacity="0.65" stroke-width="0.9" stroke-linejoin="round"/>
<polyline points="70.5,357.1 75.9,356.6 81.2,359.1 86.4,355.5 91.8,359.9 95.9,359.6 102.2,362.4 108.4,361.6 114.4,361.9 119.5,358.4 125.0,358.1 130.2,362.1 135.2,361.2 141.3,362.9 147.4,365.6 151.6,367.3 156.7,363.1 161.4,364.9 165.7,359.1 170.9,357.6 175.8,361.4 180.1,362.2 184.3,354.5 188.9,347.9 194.6,345.3 198.6,351.9 205.1,353.6 210.9,361.5 214.7,359.0" fill="none" stroke="#7a7a7a" stroke-opacity="0.65" stroke-width="0.9" stroke-linejoin="round"/>
<polyline points="71.6,359.4 75.9,357.6 80.3,363.5 85.8,359.6 91.4,359.8 95.5,361.5 99.7,362.2 103.8,357.2 110.0,357.4 114.3,357.2 119.9,360.1 125.1,363.4 129.2,362.1 135.0,364.7 140.2,367.2 146.5,362.6 151.2,362.3 156.5,363.4 161.8,368.4 166.2,367.0 172.0,369.3 176.5,367.1 180.7,365.6 186.3,372.4 191.8,362.4 196.4,351.6 201.2,341.5 207.2,342.4 211.3,346.2 214.7,359.6" fill="none" stroke="#7a7a7a" stroke-opacity="0.65" stroke-width="0.9" stroke-linejoin="round"/>
<polyline points="70.7,364.1 76.4,366.5 82.5,365.3 87.3,364.8 91.9,360.5 96.8,363.1 101.8,364.8 107.4,367.0 113.4,360.7 118.7,363.3 124.2,359.1 129.2,358.6 133.4,362.0 137.5,362.9 143.7,358.9 147.7,361.6 152.9,365.7 158.0,363.3 163.1,365.1 167.5,365.7 172.5,359.9 176.9,363.0 181.5,358.3 186.2,356.8 190.8,352.5 197.1,349.6 202.0,353.8 207.7,355.2 212.9,359.0 214.7,358.5" fill="none" stroke="#7a7a7a" stroke-opacity="0.65" stroke-width="0.9" stroke-linejoin="round"/>
<polyline points="70.9,354.9 75.3,356.6 79.9,357.9 84.1,352.1 89.0,358.2 93.8,356.4 99.6,358.1 105.4,359.8 111.1,362.6 117.4,360.8 123.8,359.3 127.9,364.7 132.9,365.7 137.0,357.2 142.3,357.4 147.2,361.0 153.4,363.3 158.6,365.0 163.3,364.5 167.4,363.7 172.0,357.4 177.0,351.7 181.1,347.7 187.6,344.1 192.6,350.3 197.9,356.7 202.2,358.7 207.5,360.5 213.7,357.5 214.7,359.5" fill="none" stroke="#7a7a7a" stroke-opacity="0.65" stroke-width="0.9" stroke-linejoin="round"/>
<polyline points="71.3,357.1 76.8,356.6 82.6,358.9 87.8,357.0 93.8,358.0 98.6,359.8 102.8,360.2 107.6,355.8 111.9,360.1 116.2,361.7 121.2,360.2 125.4,360.1 131.1,362.9 135.8,363.5 140.8,365.7 145.6,366.6 151.4,360.8 157.1,360.7 163.0,359.9 169.0,360.3 174.7,369.3 180.4,365.8 185.1,369.3 189.4,357.3 193.6,348.9 199.3,342.0 204.0,345.2 209.4,352.6 213.4,357.5 214.7,358.7" fill="none" stroke="#7a7a7a" stroke-opacity="0.65" stroke-width="0.9" stroke-linejoin="round"/>
<polyline points="72.0,359.3 76.6,356.8 81.4,358.4 85.5,353.8 91.3,353.0 95.5,353.9 101.3,355.8 106.4,361.9 110.7,360.3 115.5,363.4 120.6,361.5 125.7,362.5 131.0,356.6 137.4,358.3 143.5,359.8 148.5,368.5 152.6,369.4 158.0,362.5 163.0,364.0 167.6,363.8 173.0,363.3 177.9,358.9 182.7,353.9 187.4,353.9 193.5,345.5 199.0,347.7 205.1,355.9 210.3,359.0 214.6,358.8 214.7,359.0" fill="none" stroke="#7a7a7a" stroke-opacity="0.65" stroke-width="0.9" stroke-linejoin="round"/>
<polyline points="71.9,357.1 78.1,361.2 83.6,360.5 87.6,356.8 92.9,356.1 97.9,356.6 102.7,359.9 107.6,360.7 112.8,360.7 119.3,358.8 125.3,363.8 131.0,361.6 136.3,363.0 141.8,360.9 147.5,360.2 151.7,361.7 155.9,361.0 161.8,365.3 167.6,362.8 172.3,369.7 178.1,365.0 183.8,358.4 190.2,351.9 196.3,341.1 202.1,343.2 207.4,351.4 213.6,358.1 214.7,360.5" fill="none" stroke="#7a7a7a" stroke-opacity="0.65" stroke-width="0.9" stroke-linejoin="round"/>
<polyline points="71.1,360.2 75.5,356.4 81.8,352.4 87.3,353.3 93.1,356.3 98.4,357.0 104.7,355.5 109.2,357.4 114.8,361.3 121.0,363.6 126.9,366.4 131.5,368.0 137.5,367.5 143.7,365.7 148.8,362.5 154.1,365.4 158.8,364.2 164.3,365.9 168.4,365.0 172.7,361.4 177.2,362.6 181.6,363.6 187.4,367.3 193.2,357.5 199.3,350.0 205.7,347.9 211.3,357.3 214.7,358.7" fill="none" stroke="#7a7a7a" stroke-opacity="0.65" stroke-width="0.9" stroke-linejoin="round"/>
<polyline points="72.0,359.4 76.5,359.3 80.9,360.1 86.4,359.7 90.7,359.2 96.7,355.1 102.7,355.5 109.1,352.3 114.7,357.5 118.9,359.1 123.1,361.0 128.2,364.0 133.9,363.6 138.9,362.4 144.3,362.1 149.8,364.1 154.7,363.3 161.1,361.3 167.5,366.4 173.3,363.4 178.0,357.9 182.9,351.0 188.8,342.2 193.5,337.3 198.7,344.7 204.2,352.2 208.9,356.3 214.2,361.2 214.7,358.1" fill="none" stroke="#7a7a7a" stroke-opacity="0.65" stroke-width="0.9" stroke-linejoin="round"/>
<polyline points="70.3,359.3 79.0,358.9 88.4,357.8 97.7,358.7 104.7,359.0 111.7,360.8 121.0,361.6 130.4,362.2 145.0,363.3 152.0,364.1 159.0,364.8 169.5,364.5 175.4,361.5 182.4,356.3 188.2,351.0 192.9,346.4 195.8,345.4 198.7,346.9 202.2,351.0 205.7,355.1 209.2,357.8 215.0,358.6" fill="none" stroke="#000" stroke-width="2.8" stroke-linejoin="round"/>
<line x1="214.7" y1="338.3" x2="214.7" y2="380.8" stroke="#111" stroke-width="1.4" stroke-dasharray="3.5 2"/>
<rect x="70.9" y="336.7" width="14.3" height="2.9" fill="#000"/>
<text x="64.4" y="334.0" font-size="11.5" text-anchor="start" font-weight="normal" fill="#000" textLength="36.76" lengthAdjust="spacingAndGlyphs" >100ms</text>
<text x="200.6" y="331.5" font-size="11.5" text-anchor="start" font-weight="normal" fill="#000" textLength="28.0" lengthAdjust="spacingAndGlyphs" >spike</text>
<path d="M164.30,72.00 C165.50,76.00 168.10,80.00 167.90,83.00 C167.70,85.50 166.10,86.50 166.70,88.80 C170.60,89.80 170.70,95.00 168.90,97.20 C167.70,98.60 165.30,99.20 164.90,99.60 L164.90,112.50 C165.30,115.50 169.10,117.30 169.30,118.60 L159.30,118.60 C159.50,117.30 163.30,115.50 163.70,112.50 L163.70,99.60 C163.30,99.20 160.90,98.60 159.70,97.20 C157.90,95.00 158.00,89.80 161.90,88.80 C162.50,86.50 160.90,85.50 160.70,83.00 C160.50,80.00 163.10,76.00 164.30,72.00 Z" fill="#dadada" stroke="#404040" stroke-width="0.65"/>
<path d="M132.30,66.50 C132.30,62.20 139.50,62.20 139.50,66.50 L139.10,83.00 C138.70,84.80 136.90,85.50 137.30,87.20 C141.70,88.50 141.90,94.50 139.90,96.60 C138.70,97.80 136.90,98.20 136.50,98.60 L136.50,111.50 C136.90,114.50 140.70,116.30 140.90,117.60 L130.90,117.60 C131.10,116.30 134.90,114.50 135.30,111.50 L135.30,98.60 C134.90,98.20 133.10,97.80 131.90,96.60 C129.90,94.50 130.10,88.50 134.50,87.20 C134.90,85.50 133.10,84.80 132.70,83.00 Z" fill="#dadada" stroke="#404040" stroke-width="0.65"/>
<path d="M141.10,66.50 C141.10,62.20 148.30,62.20 148.30,66.50 L147.90,83.00 C147.50,84.80 145.70,85.50 146.10,87.20 C150.50,88.50 150.70,94.50 148.70,96.60 C147.50,97.80 145.70,98.20 145.30,98.60 L145.30,111.50 C145.70,114.50 149.50,116.30 149.70,117.60 L139.70,117.60 C139.90,116.30 143.70,114.50 144.10,111.50 L144.10,98.60 C143.70,98.20 141.90,97.80 140.70,96.60 C138.70,94.50 138.90,88.50 143.30,87.20 C143.70,85.50 141.90,84.80 141.50,83.00 Z" fill="#dadada" stroke="#404040" stroke-width="0.65"/>
<path d="M148.70,66.50 C148.70,62.20 155.90,62.20 155.90,66.50 L155.50,83.00 C155.10,84.80 153.30,85.50 153.70,87.20 C158.10,88.50 158.30,94.50 156.30,96.60 C155.10,97.80 153.30,98.20 152.90,98.60 L152.90,111.50 C153.30,114.50 157.10,116.30 157.30,117.60 L147.30,117.60 C147.50,116.30 151.30,114.50 151.70,111.50 L151.70,98.60 C151.30,98.20 149.50,97.80 148.30,96.60 C146.30,94.50 146.50,88.50 150.90,87.20 C151.30,85.50 149.50,84.80 149.10,83.00 Z" fill="#dadada" stroke="#404040" stroke-width="0.65"/>
<path d="M156.40,65.70 C156.40,61.40 163.60,61.40 163.60,65.70 L163.20,82.20 C162.80,84.00 161.00,84.70 161.40,86.40 C165.80,87.70 166.00,93.70 164.00,95.80 C162.80,97.00 161.00,97.40 160.60,97.80 L160.60,110.70 C161.00,113.70 164.80,115.50 165.00,116.80 L155.00,116.80 C155.20,115.50 159.00,113.70 159.40,110.70 L159.40,97.80 C159.00,97.40 157.20,97.00 156.00,95.80 C154.00,93.70 154.20,87.70 158.60,86.40 C159.00,84.70 157.20,84.00 156.80,82.20 Z" fill="#dadada" stroke="#404040" stroke-width="0.65"/>
<path d="M166.60,66.50 C166.60,62.20 173.80,62.20 173.80,66.50 L173.40,83.00 C173.00,84.80 171.20,85.50 171.60,87.20 C176.00,88.50 176.20,94.50 174.20,96.60 C173.00,97.80 171.20,98.20 170.80,98.60 L170.80,111.50 C171.20,114.50 175.00,116.30 175.20,117.60 L165.20,117.60 C165.40,116.30 169.20,114.50 169.60,111.50 L169.60,98.60 C169.20,98.20 167.40,97.80 166.20,96.60 C164.20,94.50 164.40,88.50 168.80,87.20 C169.20,85.50 167.40,84.80 167.00,83.00 Z" fill="#dadada" stroke="#404040" stroke-width="0.65"/>
<path d="M174.20,66.50 C174.20,62.20 181.40,62.20 181.40,66.50 L181.00,83.00 C180.60,84.80 178.80,85.50 179.20,87.20 C183.60,88.50 183.80,94.50 181.80,96.60 C180.60,97.80 178.80,98.20 178.40,98.60 L178.40,111.50 C178.80,114.50 182.60,116.30 182.80,117.60 L172.80,117.60 C173.00,116.30 176.80,114.50 177.20,111.50 L177.20,98.60 C176.80,98.20 175.00,97.80 173.80,96.60 C171.80,94.50 172.00,88.50 176.40,87.20 C176.80,85.50 175.00,84.80 174.60,83.00 Z" fill="#dadada" stroke="#404040" stroke-width="0.65"/>
<path d="M181.70,66.50 C181.70,62.20 188.90,62.20 188.90,66.50 L188.50,83.00 C188.10,84.80 186.30,85.50 186.70,87.20 C191.10,88.50 191.30,94.50 189.30,96.60 C188.10,97.80 186.30,98.20 185.90,98.60 L185.90,111.50 C186.30,114.50 190.10,116.30 190.30,117.60 L180.30,117.60 C180.50,116.30 184.30,114.50 184.70,111.50 L184.70,98.60 C184.30,98.20 182.50,97.80 181.30,96.60 C179.30,94.50 179.50,88.50 183.90,87.20 C184.30,85.50 182.50,84.80 182.10,83.00 Z" fill="#dadada" stroke="#404040" stroke-width="0.65"/>
<path d="M188.70,66.50 C188.70,62.20 195.90,62.20 195.90,66.50 L195.50,83.00 C195.10,84.80 193.30,85.50 193.70,87.20 C198.10,88.50 198.30,94.50 196.30,96.60 C195.10,97.80 193.30,98.20 192.90,98.60 L192.90,111.50 C193.30,114.50 197.10,116.30 197.30,117.60 L187.30,117.60 C187.50,116.30 191.30,114.50 191.70,111.50 L191.70,98.60 C191.30,98.20 189.50,97.80 188.30,96.60 C186.30,94.50 186.50,88.50 190.90,87.20 C191.30,85.50 189.50,84.80 189.10,83.00 Z" fill="#dadada" stroke="#404040" stroke-width="0.65"/>
<path d="M117.20,71.70 C118.40,75.70 121.00,79.70 120.80,82.70 C120.60,85.20 119.00,86.20 119.60,88.50 C123.50,89.50 123.60,94.70 121.80,96.90 C120.60,98.30 118.20,98.90 117.80,99.30 L117.80,112.20 C118.20,115.20 122.00,117.00 122.20,118.30 L112.20,118.30 C112.40,117.00 116.20,115.20 116.60,112.20 L116.60,99.30 C116.20,98.90 113.80,98.30 112.60,96.90 C110.80,94.70 110.90,89.50 114.80,88.50 C115.40,86.20 113.80,85.20 113.60,82.70 C113.40,79.70 116.00,75.70 117.20,71.70 Z" fill="#dadada" stroke="#404040" stroke-width="0.65"/>
<path d="M126.50,71.70 C127.70,75.70 130.30,79.70 130.10,82.70 C129.90,85.20 128.30,86.20 128.90,88.50 C132.80,89.50 132.90,94.70 131.10,96.90 C129.90,98.30 127.50,98.90 127.10,99.30 L127.10,112.20 C127.50,115.20 131.30,117.00 131.50,118.30 L121.50,118.30 C121.70,117.00 125.50,115.20 125.90,112.20 L125.90,99.30 C125.50,98.90 123.10,98.30 121.90,96.90 C120.10,94.70 120.20,89.50 124.10,88.50 C124.70,86.20 123.10,85.20 122.90,82.70 C122.70,79.70 125.30,75.70 126.50,71.70 Z" fill="#dadada" stroke="#404040" stroke-width="0.65"/>
<path d="M195.80,71.70 C197.00,75.70 199.60,79.70 199.40,82.70 C199.20,85.20 197.60,86.20 198.20,88.50 C202.10,89.50 202.20,94.70 200.40,96.90 C199.20,98.30 196.80,98.90 196.40,99.30 L196.40,112.20 C196.80,115.20 200.60,117.00 200.80,118.30 L190.80,118.30 C191.00,117.00 194.80,115.20 195.20,112.20 L195.20,99.30 C194.80,98.90 192.40,98.30 191.20,96.90 C189.40,94.70 189.50,89.50 193.40,88.50 C194.00,86.20 192.40,85.20 192.20,82.70 C192.00,79.70 194.60,75.70 195.80,71.70 Z" fill="#dadada" stroke="#404040" stroke-width="0.65"/>
<path d="M204.30,72.50 C205.50,76.50 208.10,80.50 207.90,83.50 C207.70,86.00 206.10,87.00 206.70,89.30 C210.60,90.30 210.70,95.50 208.90,97.70 C207.70,99.10 205.30,99.70 204.90,100.10 L204.90,113.00 C205.30,116.00 209.10,117.80 209.30,119.10 L199.30,119.10 C199.50,117.80 203.30,116.00 203.70,113.00 L203.70,100.10 C203.30,99.70 200.90,99.10 199.70,97.70 C197.90,95.50 198.00,90.30 201.90,89.30 C202.50,87.00 200.90,86.00 200.70,83.50 C200.50,80.50 203.10,76.50 204.30,72.50 Z" fill="#dadada" stroke="#404040" stroke-width="0.65"/>
<path d="M122.30,122.00 C123.20,124.00 123.20,125.00 123.20,127.00 L123.20,132.39 A5.00,5.60 0 0 0 124.05,143.38 L124.05,173.50 C123.50,175.00 120.30,175.70 120.10,176.50 L128.90,176.50 C128.70,175.70 125.50,175.00 124.95,173.50 L124.95,143.38 A5.00,5.60 0 0 0 125.80,132.39 L125.80,127.00 C125.80,125.00 125.80,124.00 126.70,122.00 Z" fill="#dadada" stroke="#404040" stroke-width="0.75"/>
<path d="M130.20,122.00 C131.10,124.00 131.10,125.00 131.10,127.00 L131.10,132.39 A5.00,5.60 0 0 0 131.95,143.38 L131.95,173.50 C131.40,175.00 128.20,175.70 128.00,176.50 L136.80,176.50 C136.60,175.70 133.40,175.00 132.85,173.50 L132.85,143.38 A5.00,5.60 0 0 0 133.70,132.39 L133.70,127.00 C133.70,125.00 133.70,124.00 134.60,122.00 Z" fill="#dadada" stroke="#404040" stroke-width="0.75"/>
<path d="M138.10,122.00 C139.00,124.00 139.00,125.00 139.00,127.00 L139.00,126.19 A5.00,5.60 0 0 0 139.85,137.18 L139.85,173.50 C139.30,175.00 136.10,175.70 135.90,176.50 L144.70,176.50 C144.50,175.70 141.30,175.00 140.75,173.50 L140.75,137.18 A5.00,5.60 0 0 0 141.60,126.19 L141.60,127.00 C141.60,125.00 141.60,124.00 142.50,122.00 Z" fill="#dadada" stroke="#404040" stroke-width="0.75"/>
<path d="M146.00,122.00 C146.90,124.00 146.90,125.00 146.90,127.00 L146.90,125.39 A5.00,5.60 0 0 0 147.75,136.38 L147.75,173.50 C147.20,175.00 144.00,175.70 143.80,176.50 L152.60,176.50 C152.40,175.70 149.20,175.00 148.65,173.50 L148.65,136.38 A5.00,5.60 0 0 0 149.50,125.39 L149.50,127.00 C149.50,125.00 149.50,124.00 150.40,122.00 Z" fill="#dadada" stroke="#404040" stroke-width="0.75"/>
<path d="M153.80,122.00 C154.70,124.00 154.70,125.00 154.70,127.00 L154.70,127.09 A5.00,5.60 0 0 0 155.55,138.08 L155.55,173.50 C155.00,175.00 151.80,175.70 151.60,176.50 L160.40,176.50 C160.20,175.70 157.00,175.00 156.45,173.50 L156.45,138.08 A5.00,5.60 0 0 0 157.30,127.09 L157.30,127.00 C157.30,125.00 157.30,124.00 158.20,122.00 Z" fill="#dadada" stroke="#404040" stroke-width="0.75"/>
<path d="M158.20,122.00 C159.10,124.00 159.10,125.00 159.10,127.00 L159.10,133.29 A5.00,5.60 0 0 0 159.95,144.28 L159.95,173.50 C159.40,175.00 156.20,175.70 156.00,176.50 L164.80,176.50 C164.60,175.70 161.40,175.00 160.85,173.50 L160.85,144.28 A5.00,5.60 0 0 0 161.70,133.29 L161.70,127.00 C161.70,125.00 161.70,124.00 162.60,122.00 Z" fill="#dadada" stroke="#404040" stroke-width="0.75"/>
<path d="M167.80,122.00 C168.70,124.00 168.70,125.00 168.70,127.00 L168.70,133.29 A5.00,5.60 0 0 0 169.55,144.28 L169.55,173.50 C169.00,175.00 165.80,175.70 165.60,176.50 L174.40,176.50 C174.20,175.70 171.00,175.00 170.45,173.50 L170.45,144.28 A5.00,5.60 0 0 0 171.30,133.29 L171.30,127.00 C171.30,125.00 171.30,124.00 172.20,122.00 Z" fill="#dadada" stroke="#404040" stroke-width="0.75"/>
<path d="M173.10,122.00 C174.00,124.00 174.00,125.00 174.00,127.00 L174.00,127.09 A5.00,5.60 0 0 0 174.85,138.08 L174.85,173.50 C174.30,175.00 171.10,175.70 170.90,176.50 L179.70,176.50 C179.50,175.70 176.30,175.00 175.75,173.50 L175.75,138.08 A5.00,5.60 0 0 0 176.60,127.09 L176.60,127.00 C176.60,125.00 176.60,124.00 177.50,122.00 Z" fill="#dadada" stroke="#404040" stroke-width="0.75"/>
<path d="M184.50,122.00 C185.40,124.00 185.40,125.00 185.40,127.00 L185.40,126.19 A5.00,5.60 0 0 0 186.25,137.18 L186.25,173.50 C185.70,175.00 182.50,175.70 182.30,176.50 L191.10,176.50 C190.90,175.70 187.70,175.00 187.15,173.50 L187.15,137.18 A5.00,5.60 0 0 0 188.00,126.19 L188.00,127.00 C188.00,125.00 188.00,124.00 188.90,122.00 Z" fill="#dadada" stroke="#404040" stroke-width="0.75"/>
<path d="M192.40,122.00 C193.30,124.00 193.30,125.00 193.30,127.00 L193.30,131.49 A5.00,5.60 0 0 0 194.15,142.48 L194.15,173.50 C193.60,175.00 190.40,175.70 190.20,176.50 L199.00,176.50 C198.80,175.70 195.60,175.00 195.05,173.50 L195.05,142.48 A5.00,5.60 0 0 0 195.90,131.49 L195.90,127.00 C195.90,125.00 195.90,124.00 196.80,122.00 Z" fill="#dadada" stroke="#404040" stroke-width="0.75"/>
<path d="M199.40,122.00 C200.30,124.00 200.30,125.00 200.30,127.00 L200.30,132.39 A5.00,5.60 0 0 0 201.15,143.38 L201.15,173.50 C200.60,175.00 197.40,175.70 197.20,176.50 L206.00,176.50 C205.80,175.70 202.60,175.00 202.05,173.50 L202.05,143.38 A5.00,5.60 0 0 0 202.90,132.39 L202.90,127.00 C202.90,125.00 202.90,124.00 203.80,122.00 Z" fill="#dadada" stroke="#404040" stroke-width="0.75"/>
<path d="M164.40,140.00 C165.30,142.00 165.30,143.00 165.30,145.00 L165.30,143.18 A3.80,4.60 0 0 0 166.15,152.07 L166.15,175.00 C165.60,176.50 162.40,177.20 162.20,178.00 L171.00,178.00 C170.80,177.20 167.60,176.50 167.05,175.00 L167.05,152.07 A3.80,4.60 0 0 0 167.90,143.18 L167.90,145.00 C167.90,143.00 167.90,142.00 168.80,140.00 Z" fill="#dadada" stroke="#404040" stroke-width="0.75"/>
<path d="M147.60,176.00 C148.50,178.00 148.50,179.00 148.50,181.00 L148.50,181.26 A4.30,5.50 0 0 0 149.35,191.97 L149.35,193.00 C148.80,194.50 145.60,195.20 145.40,196.00 L154.20,196.00 C154.00,195.20 150.80,194.50 150.25,193.00 L150.25,191.97 A4.30,5.50 0 0 0 151.10,181.26 L151.10,181.00 C151.10,179.00 151.10,178.00 152.00,176.00 Z" fill="#dadada" stroke="#404040" stroke-width="0.75"/>
<path d="M181.40,176.00 C182.30,178.00 182.30,179.00 182.30,181.00 L182.30,181.26 A4.30,5.50 0 0 0 183.15,191.97 L183.15,193.00 C182.60,194.50 179.40,195.20 179.20,196.00 L188.00,196.00 C187.80,195.20 184.60,194.50 184.05,193.00 L184.05,191.97 A4.30,5.50 0 0 0 184.90,181.26 L184.90,181.00 C184.90,179.00 184.90,178.00 185.80,176.00 Z" fill="#dadada" stroke="#404040" stroke-width="0.75"/>
<rect x="114" y="118.2" width="98" height="6.2" fill="#d8d8d8"/>
<path d="M157.6,121.9 Q159.8,122.2 161.9,121.7" fill="none" stroke="#222" stroke-width="0.7"/>
<path d="M133.0,121.6 Q132.0,121.5 134.3,123.0" fill="none" stroke="#222" stroke-width="0.7"/>
<path d="M124.3,123.7 Q127.2,124.4 126.3,121.4" fill="none" stroke="#222" stroke-width="0.7"/>
<path d="M176.2,122.3 Q174.6,119.3 172.7,119.9" fill="none" stroke="#222" stroke-width="0.7"/>
<path d="M133.5,119.7 Q130.9,121.0 128.8,119.5" fill="none" stroke="#222" stroke-width="0.7"/>
<path d="M163.8,122.5 Q163.6,122.0 163.8,123.3" fill="none" stroke="#222" stroke-width="0.7"/>
<path d="M207.8,125.0 Q208.7,124.4 211.2,126.0" fill="none" stroke="#222" stroke-width="0.7"/>
<path d="M142.6,118.5 Q145.3,117.8 145.3,118.0" fill="none" stroke="#222" stroke-width="0.7"/>
<path d="M204.1,123.9 Q203.3,123.1 199.1,122.5" fill="none" stroke="#222" stroke-width="0.7"/>
<path d="M206.2,120.8 Q205.2,120.2 201.9,121.4" fill="none" stroke="#222" stroke-width="0.7"/>
<path d="M124.0,120.3 Q124.8,120.0 128.7,121.6" fill="none" stroke="#222" stroke-width="0.7"/>
<path d="M125.3,118.4 Q127.0,117.4 128.3,116.8" fill="none" stroke="#222" stroke-width="0.7"/>
<path d="M133.5,123.1 Q130.2,123.2 129.9,123.8" fill="none" stroke="#222" stroke-width="0.7"/>
<path d="M135.6,119.9 Q137.2,122.2 140.3,121.4" fill="none" stroke="#222" stroke-width="0.7"/>
<path d="M135.4,120.8 Q135.6,123.1 138.9,121.5" fill="none" stroke="#222" stroke-width="0.7"/>
<path d="M135.6,119.8 Q136.2,117.7 138.3,119.0" fill="none" stroke="#222" stroke-width="0.7"/>
<path d="M124.3,122.1 Q122.5,122.1 121.7,122.6" fill="none" stroke="#222" stroke-width="0.7"/>
<path d="M204.2,121.4 Q203.3,120.9 205.0,123.2" fill="none" stroke="#222" stroke-width="0.7"/>
<path d="M199.6,123.7 Q199.3,124.7 197.1,122.2" fill="none" stroke="#222" stroke-width="0.7"/>
<path d="M134.1,124.7 Q135.7,123.3 137.9,125.2" fill="none" stroke="#222" stroke-width="0.7"/>
<path d="M119.6,124.7 Q117.3,126.5 116.9,125.8" fill="none" stroke="#222" stroke-width="0.7"/>
<path d="M170.9,120.1 Q167.5,119.5 167.6,121.2" fill="none" stroke="#222" stroke-width="0.7"/>
<path d="M167.5,124.0 Q169.7,122.2 168.6,122.9" fill="none" stroke="#222" stroke-width="0.7"/>
<path d="M117.5,119.9 Q116.0,118.3 117.0,117.7" fill="none" stroke="#222" stroke-width="0.7"/>
<path d="M168.6,118.9 Q169.9,120.5 167.3,120.9" fill="none" stroke="#222" stroke-width="0.7"/>
<path d="M179.6,122.1 Q175.9,122.6 176.0,119.8" fill="none" stroke="#222" stroke-width="0.7"/>
<path d="M180.5,124.7 Q178.0,126.0 175.7,125.4" fill="none" stroke="#222" stroke-width="0.7"/>
<path d="M145.3,125.0 Q144.2,126.7 141.1,125.2" fill="none" stroke="#222" stroke-width="0.7"/>
<path d="M183.8,122.9 Q184.7,124.7 186.7,125.0" fill="none" stroke="#222" stroke-width="0.7"/>
<path d="M198.9,124.1 Q199.9,125.1 198.0,125.6" fill="none" stroke="#222" stroke-width="0.7"/>
<path d="M173.5,120.7 Q172.2,121.5 174.3,121.2" fill="none" stroke="#222" stroke-width="0.7"/>
<path d="M207.4,124.2 Q209.5,124.2 209.7,123.6" fill="none" stroke="#222" stroke-width="0.7"/>
<path d="M156.5,123.9 Q152.6,124.9 152.4,125.1" fill="none" stroke="#222" stroke-width="0.7"/>
<path d="M160.2,119.6 Q161.7,121.3 162.2,119.6" fill="none" stroke="#222" stroke-width="0.7"/>
<path d="M139.5,118.1 Q137.4,117.2 137.5,119.0" fill="none" stroke="#222" stroke-width="0.7"/>
<path d="M199.3,122.6 Q198.3,124.3 198.7,124.6" fill="none" stroke="#222" stroke-width="0.7"/>
<path d="M134.3,121.0 Q137.3,121.6 137.3,123.1" fill="none" stroke="#222" stroke-width="0.7"/>
<path d="M169.6,120.2 Q169.2,121.6 166.0,120.2" fill="none" stroke="#222" stroke-width="0.7"/>
<path d="M181.4,124.7 Q180.1,122.9 179.2,123.0" fill="none" stroke="#222" stroke-width="0.7"/>
<path d="M135.7,120.9 Q135.6,122.2 137.0,120.9" fill="none" stroke="#222" stroke-width="0.7"/>
<path d="M206.3,121.2 Q205.7,118.2 202.1,118.8" fill="none" stroke="#222" stroke-width="0.7"/>
<path d="M181.2,122.0 Q178.3,121.3 179.3,123.5" fill="none" stroke="#222" stroke-width="0.7"/>
<path d="M157.8,118.2 Q158.1,115.7 161.1,116.9" fill="none" stroke="#222" stroke-width="0.7"/>
<path d="M173.9,121.1 Q175.8,123.3 175.2,121.9" fill="none" stroke="#222" stroke-width="0.7"/>
<path d="M179.0,119.4 Q176.9,118.5 178.7,117.8" fill="none" stroke="#222" stroke-width="0.7"/>
<path d="M181.7,119.3 Q181.4,118.9 179.4,118.5" fill="none" stroke="#222" stroke-width="0.7"/>
<path d="M172.5,123.3 Q173.6,122.4 171.5,124.8" fill="none" stroke="#222" stroke-width="0.7"/>
<path d="M201.8,123.1 Q200.5,124.6 198.1,122.8" fill="none" stroke="#222" stroke-width="0.7"/>
<path d="M150.7,122.0 Q154.3,122.6 154.5,123.5" fill="none" stroke="#222" stroke-width="0.7"/>
<path d="M175.9,119.4 Q177.6,121.1 178.1,121.0" fill="none" stroke="#222" stroke-width="0.7"/>
<path d="M135.6,124.3 Q138.2,126.7 140.4,126.7" fill="none" stroke="#222" stroke-width="0.7"/>
<path d="M145.5,124.4 Q145.6,123.8 149.0,123.6" fill="none" stroke="#222" stroke-width="0.7"/>
<path d="M166.6,123.4 Q167.8,120.5 166.5,121.0" fill="none" stroke="#222" stroke-width="0.7"/>
<path d="M189.6,119.2 Q187.3,118.5 187.9,120.6" fill="none" stroke="#222" stroke-width="0.7"/>
<path d="M163.5,123.1 Q167.0,123.5 166.9,124.0" fill="none" stroke="#222" stroke-width="0.7"/>
<path d="M203.3,118.6 Q201.1,119.6 200.5,118.7" fill="none" stroke="#222" stroke-width="0.7"/>
<path d="M174.8,121.7 Q175.7,121.3 178.2,122.0" fill="none" stroke="#222" stroke-width="0.7"/>
<path d="M193.8,124.3 Q194.2,125.3 190.8,126.1" fill="none" stroke="#222" stroke-width="0.7"/>
<path d="M168.7,119.4 Q169.3,117.5 169.1,119.4" fill="none" stroke="#222" stroke-width="0.7"/>
<path d="M205.2,121.6 Q204.9,122.3 204.2,123.1" fill="none" stroke="#222" stroke-width="0.7"/>
<path d="M179.6,118.5 Q181.6,119.9 180.0,118.0" fill="none" stroke="#222" stroke-width="0.7"/>
<path d="M140.8,121.3 Q140.2,122.7 137.0,121.0" fill="none" stroke="#222" stroke-width="0.7"/>
<path d="M159.8,120.2 Q160.0,119.0 156.8,120.8" fill="none" stroke="#222" stroke-width="0.7"/>
<path d="M187.7,118.2 Q186.9,116.8 184.6,116.8" fill="none" stroke="#222" stroke-width="0.7"/>
<path d="M148.7,122.3 Q145.2,123.0 144.7,123.5" fill="none" stroke="#222" stroke-width="0.7"/>
<path d="M139.1,119.4 Q138.7,118.9 139.4,119.1" fill="none" stroke="#222" stroke-width="0.7"/>
<path d="M164.7,119.1 Q163.8,119.6 161.7,119.8" fill="none" stroke="#222" stroke-width="0.7"/>
<path d="M194.3,122.3 Q197.1,122.9 197.9,120.9" fill="none" stroke="#222" stroke-width="0.7"/>
<path d="M199.0,120.2 Q197.0,123.3 197.2,122.3" fill="none" stroke="#222" stroke-width="0.7"/>
<path d="M197.7,118.9 Q195.4,117.9 195.0,120.1" fill="none" stroke="#222" stroke-width="0.7"/>
<path d="M192.6,121.0 Q193.6,120.8 195.5,119.1" fill="none" stroke="#222" stroke-width="0.7"/>
<path d="M117.6,119.4 Q120.4,118.9 119.5,121.5" fill="none" stroke="#222" stroke-width="0.7"/>
<path d="M162.5,123.3 Q161.3,122.1 162.6,124.2" fill="none" stroke="#222" stroke-width="0.7"/>
<path d="M125.8,118.3 Q126.3,116.9 126.3,118.3" fill="none" stroke="#222" stroke-width="0.7"/>
<path d="M133.0,119.4 Q136.4,119.0 136.4,121.9" fill="none" stroke="#222" stroke-width="0.7"/>
<path d="M121.7,124.7 Q120.8,125.2 121.3,126.0" fill="none" stroke="#222" stroke-width="0.7"/>
<path d="M163.4,121.0 Q164.7,121.2 164.4,118.6" fill="none" stroke="#222" stroke-width="0.7"/>
<path d="M132.7,121.2 Q132.7,119.6 135.1,120.7" fill="none" stroke="#222" stroke-width="0.7"/>
<path d="M163.2,118.1 Q165.9,120.3 167.1,119.6" fill="none" stroke="#222" stroke-width="0.7"/>
<path d="M173.9,120.8 Q176.3,122.1 174.9,120.9" fill="none" stroke="#222" stroke-width="0.7"/>
<path d="M139.8,124.4 Q142.2,124.7 142.2,125.8" fill="none" stroke="#222" stroke-width="0.7"/>
<path d="M198.5,124.2 Q200.5,124.5 200.4,125.5" fill="none" stroke="#222" stroke-width="0.7"/>
<path d="M182.5,118.5 Q179.7,117.8 180.9,118.3" fill="none" stroke="#222" stroke-width="0.7"/>
<path d="M174.8,122.4 Q174.1,122.8 172.1,124.6" fill="none" stroke="#222" stroke-width="0.7"/>
<path d="M176.7,122.0 Q178.9,122.3 177.0,121.4" fill="none" stroke="#222" stroke-width="0.7"/>
<path d="M180.5,123.3 Q183.4,123.1 185.3,120.9" fill="none" stroke="#222" stroke-width="0.7"/>
<path d="M139.6,120.8 Q136.9,118.4 135.1,119.3" fill="none" stroke="#222" stroke-width="0.7"/>
<path d="M139.1,124.3 Q141.2,124.6 139.6,124.4" fill="none" stroke="#222" stroke-width="0.7"/>
<path d="M207.5,122.5 Q209.5,122.4 210.6,120.3" fill="none" stroke="#222" stroke-width="0.7"/>
<path d="M120.2,124.5 Q117.1,124.4 116.7,124.4" fill="none" stroke="#222" stroke-width="0.7"/>
<path d="M112.3,120.0 C112.8,123.2 116,124.4 122,124.2 L205,124.2 C210,124.2 212.5,122.5 214.5,120.4" fill="none" stroke="#444" stroke-width="0.9"/>
<path d="M114,122.3 C140,121.5 180,121.5 212,122.3" fill="none" stroke="#666" stroke-width="0.6"/>
<line x1="109.2" y1="159.5" x2="132.4" y2="159.5" stroke="#000" stroke-width="1.3"/>
<line x1="132.4" y1="159.5" x2="145" y2="159.5" stroke="#000" stroke-width="0.7"/>
<line x1="147.5" y1="159.8" x2="170.0" y2="159.8" stroke="#000" stroke-width="0.9"/>
<line x1="176.0" y1="157.3" x2="198.0" y2="157.3" stroke="#000" stroke-width="0.9"/>
<line x1="122.6" y1="159.5" x2="122.6" y2="186" stroke="#000" stroke-width="1.0"/>
<line x1="140.1" y1="128" x2="140.1" y2="186" stroke="#000" stroke-width="1.0"/>
<line x1="154.5" y1="126" x2="154.5" y2="180" stroke="#000" stroke-width="1.0"/>
<line x1="159.8" y1="176" x2="159.8" y2="186" stroke="#000" stroke-width="1.0"/>
<line x1="173.7" y1="157.3" x2="173.7" y2="186" stroke="#000" stroke-width="1.0"/>
<line x1="189.0" y1="126" x2="189.0" y2="180" stroke="#000" stroke-width="1.0"/>
<line x1="190.3" y1="157.3" x2="190.3" y2="186" stroke="#000" stroke-width="1.0"/>
<line x1="202.7" y1="140" x2="202.7" y2="186" stroke="#000" stroke-width="1.0"/>
<line x1="125.2" y1="180.6" x2="212.1" y2="180.6" stroke="#222" stroke-width="0.9"/>
<path d="M134.8,173.4 L157.4,173.4 L157.4,177.4 L134.8,177.4 Z" fill="#cfcfcf" stroke="#555" stroke-width="0.6"/>
<path d="M169.8,173.4 L192.4,173.4 L192.4,177.4 L169.8,177.4 Z" fill="#cfcfcf" stroke="#555" stroke-width="0.6"/>
<path d="M145.5,141.8 C149.1,141.8 151.1,144.0 151.0,147.0 C150.8,150.0 147.3,151.0 146.7,153.0 C146.4,154.5 147.7,156.0 146.8,157.5 L144.2,157.5 C143.3,156.0 144.6,154.5 144.3,153.0 C143.7,151.0 140.2,150.0 140.0,147.0 C139.9,144.0 141.9,141.8 145.5,141.8 Z" fill="#f0505f" stroke="#d03848" stroke-width="0.4"/>
<line x1="132.7" y1="156.6" x2="155.2" y2="156.6" stroke="#c83545" stroke-width="0.9"/>
<line x1="145.5" y1="156" x2="145.5" y2="175" stroke="#f0505f" stroke-width="0.9"/>
<path d="M145.5,171.5 L148.3,175.5 L156.5,176.6 L156.5,177.8 L134.5,177.8 L134.5,176.6 L142.7,175.5 Z" fill="#f0505f"/>
<path d="M180.6,141.8 C184.2,141.8 186.2,144.0 186.1,147.0 C185.9,150.0 182.4,151.0 181.8,153.0 C181.5,154.5 182.8,156.0 181.9,157.5 L179.3,157.5 C178.4,156.0 179.7,154.5 179.4,153.0 C178.8,151.0 175.3,150.0 175.1,147.0 C175.0,144.0 177.0,141.8 180.6,141.8 Z" fill="#f0505f" stroke="#d03848" stroke-width="0.4"/>
<line x1="167.8" y1="156.6" x2="190.3" y2="156.6" stroke="#c83545" stroke-width="0.9"/>
<line x1="180.6" y1="156" x2="180.6" y2="175" stroke="#f0505f" stroke-width="0.9"/>
<path d="M180.6,171.5 L183.4,175.5 L191.6,176.6 L191.6,177.8 L169.6,177.8 L169.6,176.6 L177.8,175.5 Z" fill="#f0505f"/>
<ellipse cx="121.7" cy="190.8" rx="6.6" ry="6.3" fill="#000"/>
<ellipse cx="138.6" cy="190.8" rx="6.6" ry="6.3" fill="#000"/>
<ellipse cx="159.5" cy="190.8" rx="6.6" ry="6.3" fill="#000"/>
<ellipse cx="175.4" cy="190.8" rx="6.6" ry="6.3" fill="#000"/>
<ellipse cx="190.3" cy="190.8" rx="6.6" ry="6.3" fill="#000"/>
<ellipse cx="202.7" cy="190.8" rx="6.6" ry="6.3" fill="#000"/>
<path d="M118,197 C125,199.5 135,197 145,198.8 C160,199.5 175,197.5 190,198.5 C200,199 208,197.5 215,198.2" fill="none" stroke="#000" stroke-width="1.0"/>
<rect x="109.9" y="205.6" width="111.4" height="13.2" fill="#fff" stroke="#000" stroke-width="1.3"/>
<rect x="116.9" y="205.0" width="7.8" height="4.6" fill="#000"/>
<rect x="132.2" y="205.0" width="7.8" height="4.6" fill="#000"/>
<rect x="147.6" y="205.0" width="7.8" height="4.6" fill="#000"/>
<rect x="162.9" y="205.0" width="7.8" height="4.6" fill="#000"/>
<rect x="178.3" y="205.0" width="7.8" height="4.6" fill="#000"/>
<rect x="193.7" y="205.0" width="7.8" height="4.6" fill="#000"/>
<rect x="209.0" y="205.0" width="7.8" height="4.6" fill="#000"/>
<text x="137.2" y="216.6" font-size="9" text-anchor="start" font-weight="normal" fill="#000" textLength="81.6" lengthAdjust="spacingAndGlyphs" >multi electrode array</text>
<text x="65.6" y="146.8" font-size="9.8" text-anchor="start" font-weight="normal" fill="#ff1030" textLength="45.6" lengthAdjust="spacingAndGlyphs" stroke="#ff1030" stroke-width="0.25">Glycinergic</text>
<text x="65.6" y="153.8" font-size="9.8" text-anchor="start" font-weight="normal" fill="#ff1030" textLength="37.4" lengthAdjust="spacingAndGlyphs" stroke="#ff1030" stroke-width="0.25">amacrine</text>
<text x="65.6" y="159.8" font-size="9.8" text-anchor="start" font-weight="normal" fill="#ff1030" textLength="18.5" lengthAdjust="spacingAndGlyphs" stroke="#ff1030" stroke-width="0.25">cells</text>
<text x="65.6" y="187.2" font-size="9.8" text-anchor="start" font-weight="normal" fill="#000" textLength="28.5" lengthAdjust="spacingAndGlyphs" stroke="#000" stroke-width="0.15">Retinal</text>
<text x="65.6" y="193.8" font-size="9.8" text-anchor="start" font-weight="normal" fill="#000" textLength="34.6" lengthAdjust="spacingAndGlyphs" stroke="#000" stroke-width="0.15">ganglion</text>
<text x="65.6" y="200.1" font-size="9.8" text-anchor="start" font-weight="normal" fill="#000" textLength="18.5" lengthAdjust="spacingAndGlyphs" stroke="#000" stroke-width="0.15">cells</text>
</svg>
</body></html>
